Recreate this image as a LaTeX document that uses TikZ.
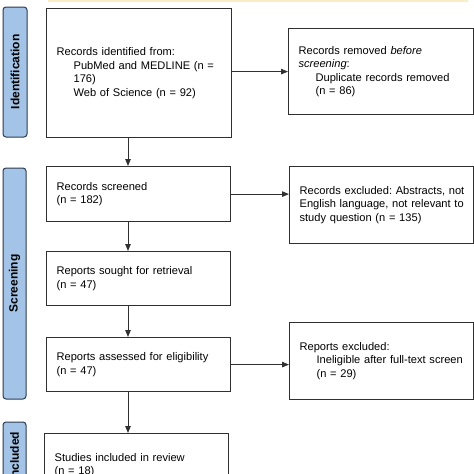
\documentclass[tikz,border=0pt]{standalone}
\usepackage{fontspec}
\setmainfont{Liberation Sans}
\usetikzlibrary{arrows.meta,positioning}
\definecolor{stagefill}{HTML}{A3C4E6}
\definecolor{stageline}{HTML}{2E3A4E}
\definecolor{boxline}{HTML}{303030}
\definecolor{notefill}{HTML}{F9EDC6}
\newcommand{\indl}{\hspace*{17pt}}
\newcommand{\keepline}[1]{\mbox{#1}}
\frenchspacing

\begin{document}
\begin{tikzpicture}[
  x=1pt, y=-1pt,
  box/.style={draw=boxline, line width=1.2pt, fill=white, align=left, anchor=north west,
    inner xsep=10pt, inner ysep=0pt, font=\fontsize{11.1}{13.4}\selectfont},
  stage/.style={draw=stageline, fill=stagefill, rounded corners=3pt, rotate=90,
    line width=1pt, inner sep=0pt, font=\bfseries\fontsize{12}{14}\selectfont},
  arrow/.style={-{Triangle[length=7pt,width=5.5pt]}, line width=0.9pt, draw=boxline}
]
\useasboundingbox (0,0) rectangle (474,474);
\clip (0,0) rectangle (474,474);

% strip of the box above
\fill[notefill] (48,-6) rectangle (468,2);

% stage labels
\node[stage, minimum width=130pt, minimum height=24pt] (ident) at (15,72) {Identification};
\node[stage, minimum width=231pt, minimum height=23pt] (screen) at (14.5,283.5) {Screening};
\node[stage, minimum width=69pt, minimum height=23pt] (incl) at (14.5,456.5) {Included};

% main column
\node[box, text width=165pt, minimum height=129pt] (identified) at (46,8)
  {Records identified from:\\\indl\keepline{PubMed and MEDLINE (n =}\\\indl 176)\\\indl Web of Science (n = 92)};
\node[box, text width=164pt, minimum height=55pt] (screened) at (46,166)
  {Records screened\\(n = 182)};
\node[box, text width=164pt, minimum height=54pt] (sought) at (46,251)
  {Reports sought for retrieval\\(n = 47)};
\node[box, text width=164pt, minimum height=54pt] (assessed) at (46,337)
  {Reports assessed for eligibility\\(n = 47)};
\node[box, text width=164pt, minimum height=63pt] (included) at (44,433)
  {Studies included in review\\(n = 18)};

% side column
\node[box, text width=165pt, minimum height=86pt] (removed) at (288,28)
  {\keepline{Records removed \textit{before}}\\\textit{screening}:\\\indl\keepline{Duplicate records removed}\\\indl (n = 86)};
\node[box, text width=164pt, minimum height=77pt] (excluded) at (289,166)
  {\keepline{Records excluded: Abstracts, not}\\\keepline{English language, not relevant to}\\study question (n = 135)};
\node[box, text width=164pt, minimum height=77pt] (rexcluded) at (289,322)
  {Reports excluded:\\\indl\keepline{Ineligible after full-text screen}\\\indl (n = 29)};

% connectors
\coordinate (spine) at (128,0);
\draw[arrow] (identified.south -| spine) -- (screened.north -| spine);
\draw[arrow] (screened.south -| spine) -- (sought.north -| spine);
\draw[arrow] (sought.south -| spine) -- (assessed.north -| spine);
\draw[arrow] (assessed.south -| spine) -- (included.north -| spine);
\draw[arrow] (removed.west -| identified.east) -- (removed.west);
\draw[arrow] (screened.east) -- (screened.east -| excluded.west);
\draw[arrow] (assessed.east) -- (assessed.east -| rexcluded.west);
\end{tikzpicture}
\end{document}
